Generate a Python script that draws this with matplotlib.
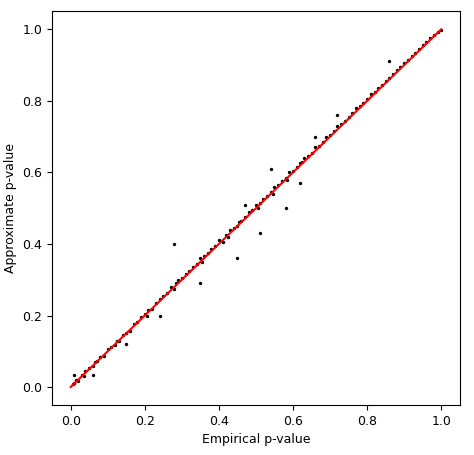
import matplotlib
matplotlib.use("Agg")
import matplotlib.pyplot as plt

empirical = [0.005,0.01,0.015,0.02,0.03,0.035,0.04,0.05,0.06,0.065,0.07,0.08,0.09,0.1,0.11,0.12,0.125,0.13,0.14,0.15,
 0.16,0.17,0.18,0.19,0.2,0.205,0.21,0.22,0.23,0.24,0.25,0.26,0.27,0.28,0.285,0.29,0.3,0.31,0.32,0.33,
 0.34,0.35,0.355,0.36,0.37,0.38,0.39,0.4,0.41,0.42,0.425,0.43,0.44,0.45,0.455,0.46,0.47,0.48,0.49,0.5,
 0.505,0.51,0.52,0.53,0.54,0.545,0.55,0.56,0.57,0.58,0.585,0.59,0.6,0.61,0.62,0.625,0.63,0.64,0.65,0.66,
 0.67,0.68,0.69,0.7,0.71,0.72,0.73,0.74,0.75,0.76,0.77,0.78,0.79,0.8,0.81,0.82,0.83,0.84,0.85,0.86,
 0.87,0.88,0.89,0.9,0.91,0.92,0.93,0.94,0.95,0.96,0.97,0.98,0.99,1.0,
 0.01,0.06,0.28,0.45,0.51,0.54,0.58,0.35,0.62,0.72,0.86,0.47,0.66,0.24,0.15]
approximate = [0.008,0.012,0.02,0.018,0.035,0.03,0.045,0.052,0.058,0.07,0.072,0.085,0.088,0.105,0.112,0.118,0.13,0.128,0.145,0.152,
 0.158,0.175,0.182,0.195,0.205,0.2,0.215,0.218,0.235,0.245,0.255,0.262,0.28,0.275,0.29,0.3,0.305,0.315,0.325,0.335,
 0.345,0.36,0.35,0.365,0.375,0.385,0.395,0.41,0.405,0.425,0.42,0.44,0.445,0.45,0.46,0.465,0.475,0.49,0.495,0.51,
 0.5,0.515,0.525,0.535,0.545,0.54,0.56,0.565,0.575,0.585,0.58,0.6,0.605,0.615,0.625,0.63,0.64,0.645,0.655,0.67,
 0.675,0.685,0.7,0.705,0.715,0.73,0.735,0.745,0.755,0.765,0.78,0.785,0.795,0.805,0.82,0.825,0.835,0.845,0.855,0.865,
 0.875,0.885,0.895,0.905,0.915,0.925,0.935,0.945,0.955,0.965,0.975,0.985,0.992,0.998,
 0.035,0.035,0.40,0.36,0.43,0.61,0.50,0.29,0.57,0.76,0.91,0.51,0.70,0.20,0.12]

fig = plt.figure(figsize=(4.74, 4.55), dpi=100)
ax = fig.add_axes([0.11, 0.11, 0.86, 0.865])
ax.scatter(empirical, approximate, s=2, c="black", zorder=2)
ax.plot([0, 1], [0, 1], color="red", lw=1.5, zorder=3)
ax.set_xlim(-0.05, 1.05)
ax.set_ylim(-0.05, 1.05)
ax.set_xlabel("Empirical p-value", fontsize=9)
ax.set_ylabel("Approximate p-value", fontsize=9)
ax.tick_params(labelsize=9)
fig.savefig("out.png", dpi=100)
